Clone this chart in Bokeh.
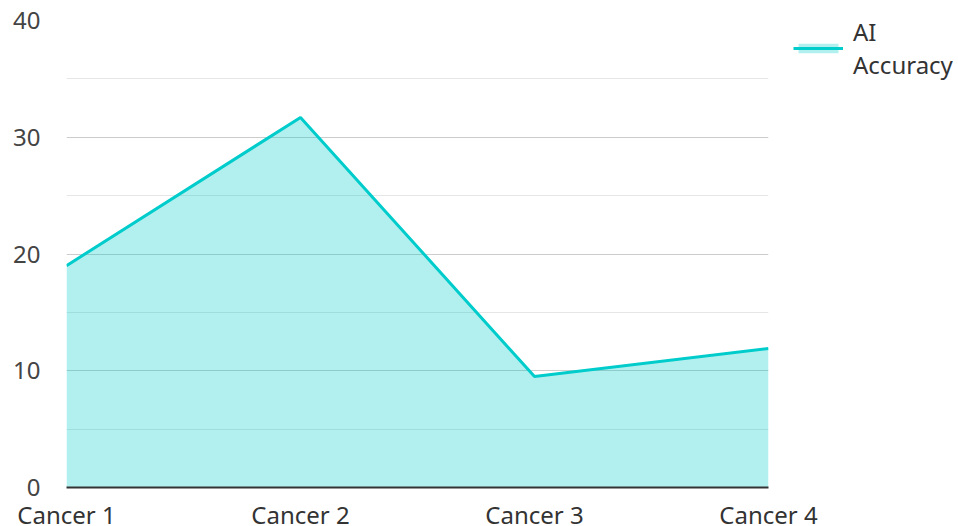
from bokeh.plotting import figure
from bokeh.models import Legend, LegendItem, Range1d, FixedTicker
from bokeh.embed import file_html
from bokeh.resources import INLINE

categories = ["Cancer 1", "Cancer 2", "Cancer 3", "Cancer 4"]
ai_accuracy = [19.0, 31.7, 9.5, 11.9]
y_ticks = [0, 10, 20, 30, 40]

xs = list(range(len(categories)))
FONT = "Noto Sans"

p = figure(output_backend="svg", toolbar_location=None,
           width=958, height=526,
           frame_width=702, frame_height=467,
           min_border_left=66, min_border_top=20, min_border_bottom=39, min_border_right=190,
           x_range=Range1d(0, len(categories) - 1), y_range=Range1d(0, 40))
p.outline_line_color = None
p.background_fill_color = "white"
p.border_fill_color = "white"

area = p.varea(x=xs, y1=[0] * len(xs), y2=ai_accuracy, fill_color="#00ccc9", fill_alpha=0.3)
line = p.line(x=xs, y=ai_accuracy, line_color="#00cccc", line_width=3)

p.xaxis.ticker = FixedTicker(ticks=xs)
p.xaxis.major_label_overrides = {i: c for i, c in enumerate(categories)}
p.xaxis.axis_line_color = "#333333"
p.xaxis.axis_line_width = 2
p.xaxis.major_tick_line_color = None
p.xaxis.major_tick_out = 0
p.xaxis.minor_tick_line_color = None
p.xaxis.major_label_standoff = 10
p.xaxis.major_label_text_font = FONT
p.xaxis.major_label_text_font_size = "24px"
p.xaxis.major_label_text_color = "#333333"

p.yaxis.ticker = FixedTicker(ticks=y_ticks, minor_ticks=[5, 15, 25, 35])
p.yaxis.axis_line_color = None
p.yaxis.major_tick_line_color = None
p.yaxis.major_tick_out = 0
p.yaxis.minor_tick_line_color = None
p.yaxis.major_label_standoff = 22
p.yaxis.major_label_text_font = FONT
p.yaxis.major_label_text_font_size = "24px"
p.yaxis.major_label_text_color = "#444444"

p.xgrid.grid_line_color = None
p.ygrid.grid_line_color = "#cccccc"
p.ygrid.grid_line_width = 1
p.ygrid.minor_grid_line_color = "#e6e6e6"

legend = Legend(items=[LegendItem(label="AI\nAccuracy", renderers=[area, line])],
                location=(25, 406), orientation="vertical",
                label_text_font=FONT, label_text_font_size="24px",
                label_text_color="#333333", glyph_width=50, glyph_height=12,
                border_line_color=None, background_fill_alpha=0,
                padding=0, margin=0, label_standoff=10)
p.add_layout(legend, "right")

open("out.html", "w").write(file_html(p, INLINE))
